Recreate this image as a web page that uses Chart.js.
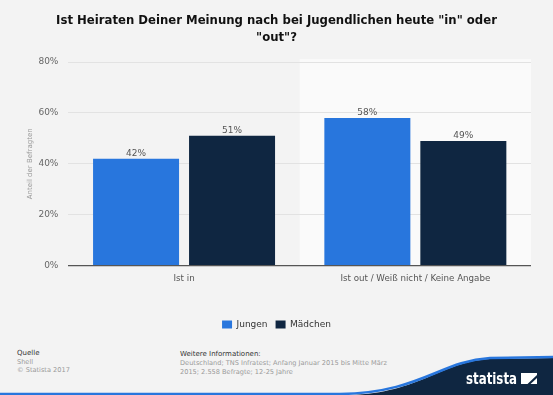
<!DOCTYPE html>
<html>
<head>
<meta charset="utf-8">
<script src="https://cdn.jsdelivr.net/npm/chart.js@4.4.1/dist/chart.umd.min.js"></script>
<style>
  html, body { margin: 0; padding: 0; background: #f3f3f3; }
  #wrap { position: relative; width: 553px; height: 395px; overflow: hidden; font-family: "DejaVu Sans", sans-serif; }
  #chartBox { position: absolute; left: 0; top: 0; width: 553px; height: 345px; }
  .foot { position: absolute; font-size: 6.6px; line-height: 8.6px; color: #9a9a9a; white-space: nowrap; }
  .foot b { font-weight: normal; color: #333; font-size: 7px; }
  #logo { position: absolute; left: 0; top: 0; }
</style>
</head>
<body>
<div id="wrap">
  <div id="chartBox"><canvas id="heiratenChart"></canvas></div>

  <div class="foot" style="left:17px; top:349px;">
    <b>Quelle</b><br>Shell<br>© Statista 2017
  </div>
  <div class="foot" style="left:180px; top:349.5px; line-height:9.2px;">
    <b>Weitere Informationen:</b><br>Deutschland; TNS Infratest; Anfang Januar 2015 bis Mitte März<br>2015; 2.558 Befragte; 12-25 Jahre
  </div>

  <svg id="logo" width="553" height="395">
    <path d="M 350 395 C 420 393, 440 362, 490 359 L 553 358 L 553 395 Z" fill="#0f2641"/>
    <path d="M 0 394 L 340 394 C 420 393, 440 361, 490 358 L 553 357" fill="none" stroke="#2876dd" stroke-width="2.5"/>
    <text x="466" y="384" fill="#fff" font-family="DejaVu Sans" font-weight="bold" font-size="16" textLength="51" lengthAdjust="spacingAndGlyphs">statista</text>
    <path d="M 521 373 L 537 373 L 537 375 L 527.5 384 L 521 384 Z M 530.5 384 L 537 378 L 537 384 Z" fill="#fff"/>
  </svg>
</div>

<script>
// values
const categories = ["Ist in", "Ist out / Weiß nicht / Keine Angabe"];
const jungen = [42, 58];
const maedchen = [51, 49];
const yTicks = [0, 20, 40, 60, 80];

// lighter band behind the second category
const bandPlugin = {
  id: "band",
  beforeDraw(chart) {
    const { ctx, chartArea, scales } = chart;
    const x = scales.x;
    const left = (x.getPixelForValue(0) + x.getPixelForValue(1)) / 2;
    ctx.save();
    ctx.fillStyle = "#fafafa";
    ctx.fillRect(left, chartArea.top - 3, chartArea.right - left, chartArea.bottom - chartArea.top + 3);
    ctx.restore();
  }
};

// value labels on top of the bars
const labelPlugin = {
  id: "valueLabels",
  afterDatasetsDraw(chart) {
    const { ctx } = chart;
    ctx.save();
    ctx.font = "9px 'DejaVu Sans'";
    ctx.fillStyle = "#555";
    ctx.textAlign = "center";
    ctx.textBaseline = "bottom";
    chart.data.datasets.forEach((ds, i) => {
      chart.getDatasetMeta(i).data.forEach((bar, j) => {
        ctx.fillText(ds.data[j] + "%", bar.x, bar.y - 1);
      });
    });
    ctx.restore();
  }
};

const ctx = document.getElementById("heiratenChart").getContext("2d");
new Chart(ctx, {
  type: "bar",
  data: {
    labels: categories,
    datasets: [
      { label: "Jungen", data: jungen, backgroundColor: "#2876dd" },
      { label: "Mädchen", data: maedchen, backgroundColor: "#0f2641" }
    ]
  },
  options: {
    responsive: true,
    maintainAspectRatio: false,
    animation: false,
    categoryPercentage: 0.83,
    barPercentage: 0.896,
    layout: { padding: { left: 22, right: 22, top: 8, bottom: 6 } },
    plugins: {
      title: {
        display: true,
        text: ['Ist Heiraten Deiner Meinung nach bei Jugendlichen heute "in" oder', '"out"?'],
        color: "#111",
        font: { family: "DejaVu Sans", size: 11.7, weight: "bold", lineHeight: 1.5 },
        padding: { top: 4, bottom: 15 }
      },
      legend: {
        position: "bottom",
        labels: {
          boxWidth: 10,
          boxHeight: 8,
          padding: 8,
          color: "#333",
          font: { family: "DejaVu Sans", size: 9 }
        }
      },
      tooltip: { enabled: false }
    },
    scales: {
      x: {
        grid: { display: false },
        border: { display: false },
        ticks: { color: "#555", font: { family: "DejaVu Sans", size: 8.7 }, padding: 0 },
        afterFit(axis) { axis.height += 28; }
      },
      y: {
        min: 0,
        max: 80,
        afterBuildTicks(axis) { axis.ticks = yTicks.map(v => ({ value: v })); },
        grid: {
          drawTicks: false,
          color: c => (c.tick && c.tick.value === 0 ? "#555" : "#e2e2e2"),
          lineWidth: c => (c.tick && c.tick.value === 0 ? 1.2 : 1)
        },
        border: { display: false },
        ticks: {
          color: "#666",
          padding: 10,
          font: { family: "DejaVu Sans", size: 9 },
          callback: v => v + "%"
        },
        title: {
          display: true,
          text: "Anteil der Befragten",
          color: "#999",
          font: { family: "DejaVu Sans", size: 7 },
          padding: { top: 4, bottom: -6 }
        }
      }
    }
  },
  plugins: [bandPlugin, labelPlugin]
});
</script>
</body>
</html>
